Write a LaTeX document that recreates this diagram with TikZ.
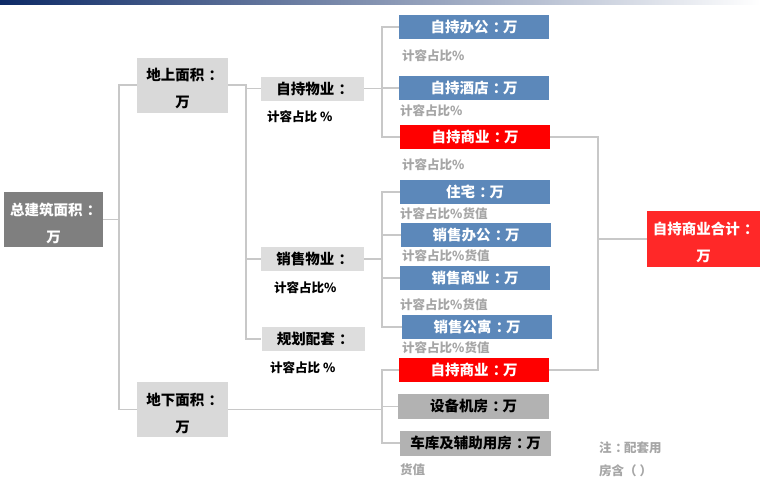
\documentclass[tikz,border=0pt]{standalone}
\usepackage{fontspec}
\setmainfont{Noto Sans CJK SC}
\usepackage{tikz}
\definecolor{barnavy}{HTML}{0D2A66}
\definecolor{rootgray}{HTML}{7F7F7F}
\definecolor{lightgray}{HTML}{D9D9D9}
\definecolor{midgray}{HTML}{B2B2B2}
\definecolor{areablue}{HTML}{5C88BA}
\definecolor{ownred}{HTML}{FF0000}
\definecolor{sumred}{HTML}{FF2828}
\definecolor{linegray}{HTML}{C8C8C8}
\definecolor{notegray}{HTML}{A6A6A6}
\newcommand{\cc}{\kern0.3em：\kern-0.3em}
\tikzset{
  box/.style={inner sep=0pt, align=center, font=\bfseries\fontsize{14.5}{27}\selectfont},
  twoline/.style={text height=50pt, text depth=5pt},
  rootbox/.style={box, twoline, fill=rootgray, text=white, minimum width=99pt, minimum height=55pt},
  areabox/.style={box, twoline, fill=lightgray, minimum width=91pt, minimum height=54pt},
  kindbox/.style={box, fill=lightgray!90!white, minimum width=103pt, minimum height=24pt},
  bluebox/.style={box, fill=areablue, text=white, minimum width=150pt, minimum height=24pt},
  redbox/.style={box, fill=ownred, text=white, minimum width=150pt, minimum height=24pt},
  graybox/.style={box, fill=midgray, minimum width=151pt, minimum height=25pt},
  sumbox/.style={box, twoline, fill=sumred, text=white, minimum width=113pt, minimum height=56pt},
  note/.style={anchor=west, inner sep=0pt, text=notegray, font=\bfseries\fontsize{12.5}{15}\selectfont},
  ratio/.style={anchor=west, inner sep=0pt, font=\bfseries\fontsize{12.5}{15}\selectfont},
  conn/.style={draw=linegray, line width=1.2pt}
}

\begin{document}
\begin{tikzpicture}[x=1pt, y=-1pt]
    \useasboundingbox (0,0) rectangle (760,479);
    % top bar
    \shade[left color=barnavy, right color=white] (0,0) rectangle (760,4);

    % bus lines
    \coordinate (b1) at (119,0);
    \coordinate (b2) at (246,0);
    \coordinate (b3) at (382,0);
    \coordinate (b4) at (598,0);

    \node[rootbox] (total) at (53.5,219.5) {总建筑面积\cc\\万};
    \node[areabox] (above) at (182.5,85) {地上面积\cc\\万};
    \node[areabox] (below) at (182.5,409.5) {地下面积\cc\\万};

    \node[kindbox] (own) at (312.5,88.5) {自持物业\cc};
    \node[ratio] at (267,117) {计容占比 \%};
    \node[kindbox] (sale) at (312.5,259) {销售物业\cc};
    \node[ratio] at (274,288) {计容占比\%};
    \node[kindbox] (plan) at (313,339) {规划配套\cc};
    \node[ratio] at (270,368) {计容占比 \%};

    \node[bluebox] (office) at (474,27) {自持办公\cc 万};
    \node[note] at (402,56) {计容占比\%};
    \node[bluebox] (hotel) at (474,88) {自持酒店\cc 万};
    \node[note] at (400,111) {计容占比\%};
    \node[redbox] (shopa) at (475,137) {自持商业\cc 万};
    \node[note] at (402,165) {计容占比\%};
    \node[bluebox] (home) at (475,192) {住宅\cc 万};
    \node[note] at (400,214) {计容占比\%货值};
    \node[bluebox] (soffice) at (476,235) {销售办公\cc 万};
    \node[note] at (402,256) {计容占比\%货值};
    \node[bluebox] (sshop) at (475,278) {销售商业\cc 万};
    \node[note] at (400,305) {计容占比\%货值};
    \node[bluebox] (sflat) at (477,327) {销售公寓\cc 万};
    \node[note] at (402,348) {计容占比\%货值};
    \node[redbox] (shopb) at (474,370) {自持商业\cc 万};
    \node[graybox] (plant) at (473.5,406.5) {设备机房\cc 万};
    \node[graybox] (garage) at (475.5,443) {车库及辅助用房\cc 万};
    \node[note] at (400,470) {货值};

    \node[sumbox] (sum) at (703.5,239) {自持商业合计\cc\\万};
    \node[note] at (599,448) {注\cc 配套用};
    \node[note] at (599,471) {房含（ ）};

    % connectors
    \draw[conn] (total.east) -- (total.east -| b1) |- (above.west);
    \draw[conn] (total.east) -- (total.east -| b1) |- (below.west);
    \draw[conn] (above.east) -- (above.east -| b2) |- (own.west);
    \draw[conn] (above.east) -- (above.east -| b2) |- (sale.west);
    \draw[conn] (above.east) -- (above.east -| b2) |- (plan.west);
    \draw[conn] (own.east) -- (own.east -| b3) |- (office.west);
    \draw[conn] (own.east) -- (own.east -| b3) |- (hotel.west);
    \draw[conn] (own.east) -- (own.east -| b3) |- (shopa.west);
    \draw[conn] (sale.east) -- (sale.east -| b3) |- (home.west);
    \draw[conn] (sale.east) -- (sale.east -| b3) |- (soffice.west);
    \draw[conn] (sale.east) -- (sale.east -| b3) |- (sshop.west);
    \draw[conn] (sale.east) -- (sale.east -| b3) |- (sflat.west);
    \draw[conn] (below.east) -- (below.east -| b3) |- (shopb.west);
    \draw[conn] (below.east) -- (below.east -| b3) |- (plant.west);
    \draw[conn] (below.east) -- (below.east -| b3) |- (garage.west);
    \draw[conn] (shopa.east) -- (shopa.east -| b4) -- (shopb.east -| b4) -- (shopb.east);
    \draw[conn] (sum.west -| b4) -- (sum.west);
\end{tikzpicture}
\end{document}
